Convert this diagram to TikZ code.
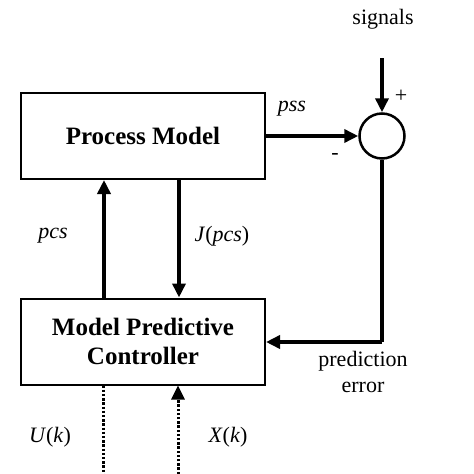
\documentclass[tikz,border=0pt]{standalone}
\usepackage{fontspec}
\setmainfont{Liberation Serif}
\usetikzlibrary{arrows.meta}
\begin{document}
\begin{tikzpicture}[x=1pt,y=-1pt,
  blockbox/.style={draw,line width=2pt,minimum width=244pt,minimum height=86pt,inner sep=0pt,align=center,font=\fontsize{25}{29}\selectfont\bfseries},
  sumcirc/.style={draw,circle,line width=2.5pt,minimum size=45pt,inner sep=0pt},
  sig/.style={line width=3.5pt,-{Triangle[length=14pt,width=13pt]}},
  sigline/.style={line width=3.5pt},
  dotsig/.style={line width=3pt,dash pattern=on 2.4pt off 1.8pt},
  lbl/.style={inner sep=0pt,font=\fontsize{22}{26}\selectfont},
  ilbl/.style={inner sep=0pt,font=\fontsize{22}{26}\selectfont\itshape}]
\useasboundingbox (0,0) rectangle (474,474);
\node[blockbox] (pm) at (143,136) {Process Model};
\node[blockbox] (mpc) at (143,341.5) {Model Predictive\\Controller};
\node[sumcirc] (sum) at (382,136) {};
\coordinate (sigtop) at (382,58);
\coordinate (corner) at (382,342);
\coordinate (ubot) at (103,474);
\coordinate (xbot) at (178,474);
% signals
\node[lbl] (signals) at (383,19) {signals};
\draw[sig] (sigtop) -- (sum.north);
\node[lbl] (plus) at (401,96) {+};
\node[lbl] (minus) at (335,156) {-};
% pss
\draw[sig] (pm.east) -- (sum.west);
\node[ilbl] (pss) at (292,109) {pss};
% pcs and J(pcs)
\draw[sig] (mpc.north -| 104,0) -- (pm.south -| 104,0);
\draw[sig] (pm.south -| 179,0) -- (mpc.north -| 179,0);
\node[ilbl] (pcs) at (53,236) {pcs};
\node[lbl] (jpcs) at (222,236) {\textit{J}(\textit{pcs})};
% prediction error
\draw[sigline] (sum.south) -- (corner);
\draw[sig] (corner) -- (mpc.east |- corner);
\node[lbl] (pe1) at (363,361) {prediction};
\node[lbl] (pe2) at (363,387) {error};
% U(k), X(k)
\draw[dotsig] (mpc.south -| ubot) -- (ubot);
\draw[dotsig,-{Triangle[length=14pt,width=13pt]}] (xbot) -- (mpc.south -| xbot);
\node[lbl] (uk) at (50,437) {\textit{U}(\textit{k})};
\node[lbl] (xk) at (228,437) {\textit{X}(\textit{k})};
\end{tikzpicture}
\end{document}
